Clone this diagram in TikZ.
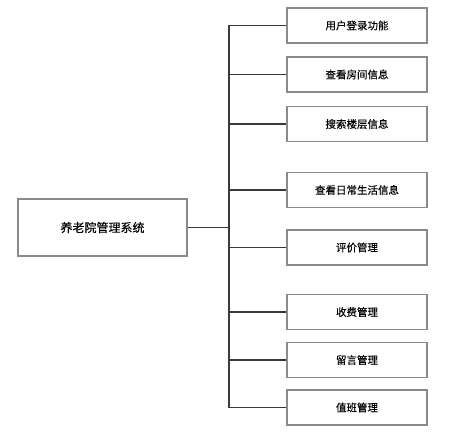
\documentclass[tikz,border=0pt]{standalone}
\usepackage{fontspec}
\newfontfamily\cjk[FakeBold=0.3]{Noto Sans CJK SC}
\definecolor{boxline}{HTML}{8A8A8A}
\definecolor{linkline}{HTML}{3A3A3A}
\tikzset{
    item/.style={draw=boxline, line width=1.2pt, minimum width=140pt, minimum height=35pt,
        inner sep=0pt, font=\cjk\fontsize{10.5pt}{12pt}\selectfont},
    root/.style={item, minimum width=169pt, minimum height=57pt,
        font=\cjk\fontsize{12pt}{14pt}\selectfont},
    link/.style={draw=linkline, line width=1.1pt}
}
\begin{document}
\begin{tikzpicture}[x=1pt,y=-1pt]
    \useasboundingbox (0,0) rectangle (474,436);

    % root box and bus
    \node[root] (sys) at (102.5,227.5) {养老院管理系统};
    \coordinate (hub) at (229,227.5);
    \coordinate (top) at (229,25.5);
    \coordinate (bot) at (229,407.5);
    \draw[link] (sys.east) -- (hub);
    \draw[link] (top) -- (bot);

    % modules
    \foreach \name/\y/\txt in {login/25.5/用户登录功能, room/74.5/查看房间信息,
        floor/124/搜索楼层信息, daily/190/查看日常生活信息, rate/247.5/评价管理,
        fee/312/收费管理, msg/360/留言管理, duty/407.5/值班管理}{
        \node[item] (\name) at (357,\y) {\txt};
        \coordinate (b\name) at (229,\y);
        \draw[link] (b\name) -- (\name.west);
    }
\end{tikzpicture}
\end{document}
